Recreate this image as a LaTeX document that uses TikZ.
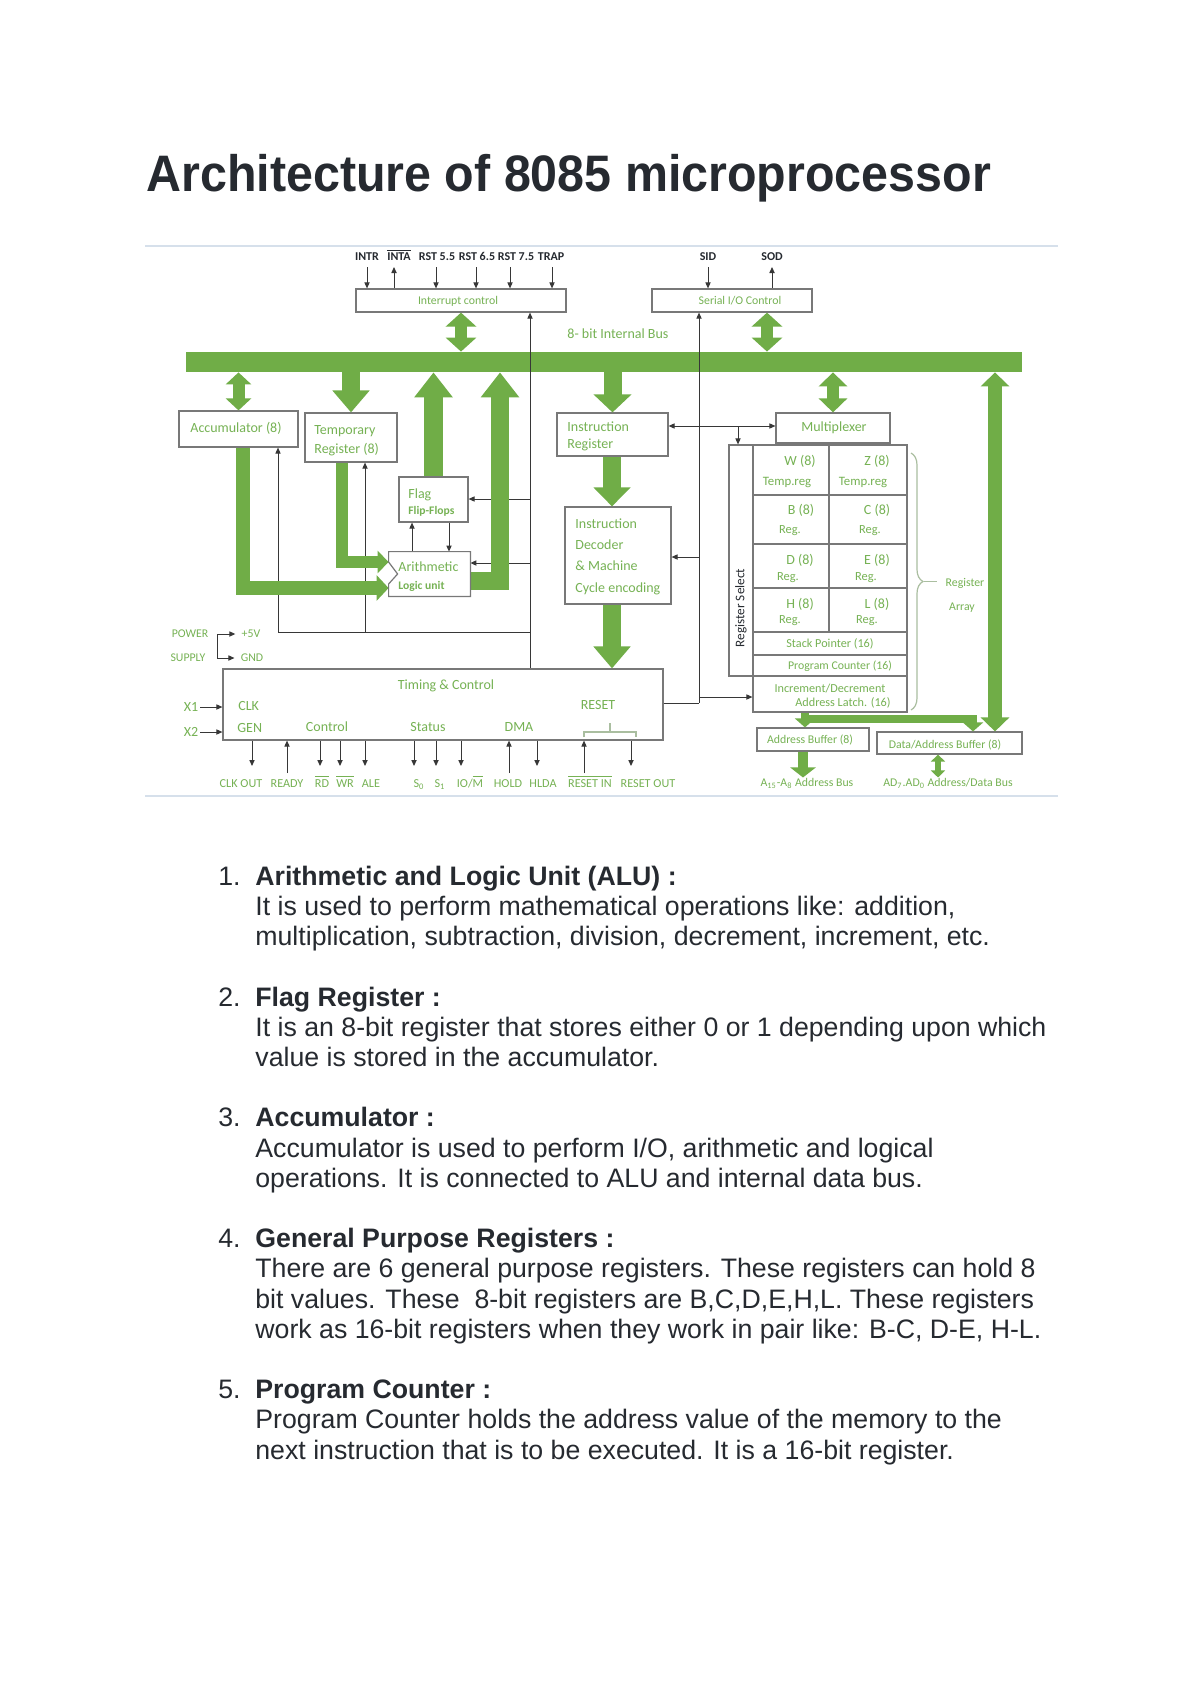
\documentclass[tikz,border=0pt]{standalone}
\usepackage{graphicx}
\usepackage{fontspec}
\setmainfont{Liberation Sans}
\newfontfamily\carl{Carlito}
\usetikzlibrary{arrows.meta,fit,calc,decorations.pathreplacing}
\definecolor{bgreen}{RGB}{112,173,71}
\definecolor{tgreen}{RGB}{118,178,84}
\definecolor{bord}{RGB}{120,120,120}
\definecolor{wirec}{RGB}{55,55,55}
\definecolor{rulec}{RGB}{214,224,235}
\definecolor{ink}{RGB}{38,42,48}
\definecolor{bracec}{RGB}{170,190,160}
\newcommand\ovl[1]{$\overline{\hbox{#1}}$}
\begin{document}
\begin{tikzpicture}[x=0.5pt,y=-0.5pt,
  box/.style={draw=bord,line width=0.6pt,fill=white,inner sep=0pt},
  lab/.style={font=\carl\fontsize{7pt}{8pt}\selectfont,text=tgreen,inner sep=0pt},
  slab/.style={font=\carl\fontsize{5.9pt}{7pt}\selectfont,text=tgreen,inner sep=0pt},
  sblab/.style={font=\carl\bfseries\fontsize{5.8pt}{7pt}\selectfont,text=tgreen,inner sep=0pt},
  botlab/.style={font=\carl\fontsize{6.1pt}{7pt}\selectfont,text=tgreen,inner sep=0pt,anchor=base},
  blab/.style={font=\carl\bfseries\fontsize{6pt}{7pt}\selectfont,text=ink,inner sep=0pt,anchor=base},
  wire/.style={draw=wirec,line width=0.5pt},
  arr/.style={wire,-{Triangle[length=3pt,width=2.6pt]}},
  rarr/.style={wire,{Triangle[length=3pt,width=2.6pt]}-},
  darr/.style={wire,{Triangle[length=3pt,width=2.6pt]}-{Triangle[length=3pt,width=2.6pt]}},
  fat/.style n args={3}{draw=bgreen,line width=#1,-{Triangle[width=#2,length=#3]}},
  fatd/.style n args={3}{draw=bgreen,line width=#1,{Triangle[width=#2,length=#3]}-{Triangle[width=#2,length=#3]}},
  body/.style={anchor=mid west,inner sep=0pt,text=ink,font=\fontsize{13.35pt}{16pt}\selectfont},
  head/.style={body,font=\bfseries\fontsize{13.35pt}{16pt}\selectfont},
]
\fill[white] (0,0) rectangle (1200,1696);
\useasboundingbox (0,0) rectangle (1200,1696);

% ---------- title and rules
\node[anchor=base west,inner sep=0pt,text=ink,font=\bfseries\fontsize{24.2pt}{29pt}\selectfont] (title) at (146,192) {\scalebox{1}[1.06]{Architecture of 8085 microprocessor}};
\coordinate (ruleTL) at (145,246); \coordinate (ruleTR) at (1058,246);
\coordinate (ruleBL) at (145,796); \coordinate (ruleBR) at (1058,796);
\draw[rulec,line width=1pt] (ruleTL) -- (ruleTR);
\draw[rulec,line width=1pt] (ruleBL) -- (ruleBR);

% ---------- helper coordinates
\foreach \v in {217,243,278,342,365,412,449,500,530,612,699,738,767,803,805,938,973,995}{\coordinate (x\v) at (\v,0);}
\foreach \v in {426,499,557,562,563,581,588,632,697,703,719}{\coordinate (r\v) at (0,\v);}

% ---------- top labels
\node[blab] (lintr) at (367,261) {INTR};
\node[blab] (linta) at (399,261) {\ovl{INTA}};
\node[blab] (lr55) at (437,261) {RST 5.5};
\node[blab] (lr65) at (477,261) {RST 6.5};
\node[blab] (lr75) at (516,261) {RST 7.5};
\node[blab] (ltrap) at (551,261) {TRAP};
\node[blab] (lsid) at (708,261) {SID};
\node[blab] (lsod) at (772,261) {SOD};

% ---------- boxes
\node[box,fit={(356,289)(566,312)}] (intc) {};
\node[slab] (intcT) at (458,301) {Interrupt control};
\node[box,fit={(652,289)(812,312)}] (sio) {};
\node[slab] (sioT) at (740,301) {Serial I/O Control};

\node[fill=bgreen,inner sep=0pt,fit={(186,352)(1022,372)}] (bus) {};
\node[lab,anchor=mid west] (busT) at (567,333) {8- bit Internal Bus};

\node[box,fit={(179,411)(298,447)}] (acc) {};
\node[lab] (accT) at (236,428) {Accumulator (8)};
\node[box,fit={(305,413)(397,462)}] (tmp) {};
\node[lab,anchor=mid west] (tmpT1) at (314,429) {Temporary};
\node[lab,anchor=mid west] (tmpT2) at (314,448) {Register (8)};
\node[box,fit={(399,477)(468,522)}] (flag) {};
\node[lab,anchor=mid west] (flagT1) at (408,493) {Flag};
\node[sblab,anchor=mid west] (flagT2) at (408,509) {Flip-Flops};
\node[inner sep=0pt,fit={(389,552)(470,596)}] (alu) {};

\node[box,fit={(557,413)(668,456)}] (ir) {};
\node[lab,anchor=mid west] (irT1) at (567,426) {Instruction};
\node[lab,anchor=mid west] (irT2) at (567,443) {Register};
\node[box,fit={(565,507)(671,604)}] (dec) {};
\node[lab,anchor=mid west] (decT1) at (575,523) {Instruction};
\node[lab,anchor=mid west] (decT2) at (575,544) {Decoder};
\node[lab,anchor=mid west] (decT3) at (575,565) {\& Machine};
\node[lab,anchor=mid west] (decT4) at (575,587) {Cycle encoding};

\node[box,fit={(776,413)(890,443)}] (mux) {};
\node[lab] (muxT) at (834,428) {Multiplexer};
\node[box,fit={(729,445)(753,676)}] (rsel) {};
\node[font=\carl\fontsize{6.6pt}{8pt}\selectfont,text=ink,rotate=90,inner sep=0pt] (rselT) at (741,608) {Register Select};

\node[box,fit={(753,445)(829,495)}] (cW) {};
\node[box,fit={(829,445)(907,495)}] (cZ) {};
\node[box,fit={(753,495)(829,544)}] (cB) {};
\node[box,fit={(829,495)(907,544)}] (cC) {};
\node[box,fit={(753,544)(829,588)}] (cD) {};
\node[box,fit={(829,544)(907,588)}] (cE) {};
\node[box,fit={(753,588)(829,632)}] (cH) {};
\node[box,fit={(829,588)(907,632)}] (cL) {};
\node[box,fit={(753,632)(907,655)}] (cSP) {};
\node[box,fit={(753,655)(907,676)}] (cPC) {};
\node[box,fit={(753,676)(907,712)}] (latch) {};
\node[lab] (tW) at (800,461) {W (8)};
\node[slab,font=\carl\fontsize{6.4pt}{7pt}\selectfont] (tW2) at (787,482) {Temp.reg};
\node[lab] (tZ) at (877,461) {Z (8)};
\node[slab,font=\carl\fontsize{6.4pt}{7pt}\selectfont] (tZ2) at (863,482) {Temp.reg};
\node[lab] (tB) at (801,510) {B (8)};
\node[slab,font=\carl\fontsize{6.2pt}{7pt}\selectfont] (tB2) at (790,531) {Reg.};
\node[lab] (tC) at (877,510) {C (8)};
\node[slab,font=\carl\fontsize{6.2pt}{7pt}\selectfont] (tC2) at (870,531) {Reg.};
\node[lab] (tD) at (800,560) {D (8)};
\node[slab,font=\carl\fontsize{6.2pt}{7pt}\selectfont] (tD2) at (788,578) {Reg.};
\node[lab] (tE) at (877,560) {E (8)};
\node[slab,font=\carl\fontsize{6.2pt}{7pt}\selectfont] (tE2) at (866,578) {Reg.};
\node[lab] (tH) at (800,604) {H (8)};
\node[slab,font=\carl\fontsize{6.2pt}{7pt}\selectfont] (tH2) at (790,621) {Reg.};
\node[lab] (tL) at (877,604) {L (8)};
\node[slab,font=\carl\fontsize{6.2pt}{7pt}\selectfont] (tL2) at (867,621) {Reg.};
\node[slab,font=\carl\fontsize{6.1pt}{7pt}\selectfont] (tSP) at (830,644) {Stack Pointer (16)};
\node[slab] (tPC) at (840,666) {Program Counter (16)};
\node[slab,font=\carl\fontsize{6.1pt}{7pt}\selectfont] (tLa1) at (830,689) {Increment/Decrement};
\node[slab,font=\carl\fontsize{6.1pt}{7pt}\selectfont] (tLa2) at (843,703) {Address Latch. (16)};

\coordinate (brT) at (911,453); \coordinate (brB) at (911,710);
\draw[bracec,line width=0.6pt,decorate,decoration={brace,amplitude=6pt}] (brT) -- (brB);
\node[slab] (regT) at (965,583) {Register};
\node[slab] (arrT) at (962,608) {Array};
\coordinate (brTip) at (924,581.5); \coordinate (brDash) at (937,581.5);
\draw[bracec,line width=0.6pt] (brTip) -- (brDash);

\node[box,fit={(757,728)(869,751)}] (abuf) {};
\node[slab] (abufT) at (810,740) {Address Buffer (8)};
\node[box,fit={(877,732)(1022,754)}] (dbuf) {};
\node[slab] (dbufT) at (945,745) {Data/Address Buffer (8)};
\node[slab] (abusT) at (807,783) {A\textsubscript{15}-A\textsubscript{8} Address Bus};
\node[slab] (dbusT) at (948,783) {AD\textsubscript{7}.AD\textsubscript{0} Address/Data Bus};

\node[box,fit={(223,669)(663,740)}] (timing) {};
\node[lab] (timT) at (446,686) {Timing \& Control};
\node[lab,anchor=mid west] (clkT) at (238,705) {CLK};
\node[lab,anchor=mid west] (genT) at (237,727) {GEN};
\node[lab] (ctlT) at (327,727) {Control};
\node[lab] (staT) at (428,727) {Status};
\node[lab] (dmaT) at (519,727) {DMA};
\node[lab] (rstT) at (598,705) {RESET};
\coordinate (rbA) at (584,737); \coordinate (rbB) at (636,737); \coordinate (rbM) at (610,732);
\draw[bracec,line width=0.6pt] (rbA) -- ++(0,-5) -- ($(rbB)+(0,-5)$) -- (rbB);
\draw[bracec,line width=0.6pt] (rbM) -- ++(0,-9);

\node[lab] (x1T) at (191,707) {X1};
\node[lab] (x2T) at (191,732) {X2};
\node[slab] (pwT) at (190,634) {POWER};
\node[slab] (supT) at (188,658) {SUPPLY};
\node[slab] (v5T) at (251,634) {+5V};
\node[slab] (gndT) at (252,658) {GND};

% bottom signal labels (baseline aligned)
\node[botlab] (bclk) at (241,787) {CLK OUT};
\node[botlab] (brdy) at (287,787) {READY};
\node[botlab] (brd) at (322,787) {\ovl{RD}};
\node[botlab] (bwr) at (345,787) {\ovl{WR}};
\node[botlab] (bale) at (371,787) {ALE};
\node[botlab] (bs0) at (419,787) {S\textsubscript{0}};
\node[botlab] (bs1) at (440,787) {S\textsubscript{1}};
\node[botlab] (biom) at (470,787) {IO/\ovl{M}};
\node[botlab] (bhold) at (508,787) {HOLD};
\node[botlab] (bhlda) at (543,787) {HLDA};
\node[botlab] (brin) at (590,787) {\ovl{RESET IN}};
\node[botlab] (brout) at (648,787) {RESET OUT};

% ---------- thin connectors
\foreach \x/\n in {367/a,436/b,476/c,510/d,552/e}{\coordinate (it\n) at (\x,267); \draw[arr] (it\n) -- (it\n |- intc.north);}
\coordinate (itINTA) at (394,267); \draw[rarr] (itINTA) -- (itINTA |- intc.north);
\coordinate (sidc) at (708,267); \draw[arr] (sidc) -- (sidc |- sio.north);
\coordinate (sodc) at (772,267); \draw[rarr] (sodc) -- (sodc |- sio.north);

\draw[rarr] (intc.south -| x530) -- (timing.north -| x530);
\draw[arr] (x530 |- r499) -- (flag.east |- r499);
\draw[arr] (x530 |- r563) -- (alu.east |- r563);
\draw[wire] (x530 |- r632) -- (x278 |- r632);
\draw[arr] (x278 |- r632) -- (acc.south -| x278);
\draw[arr] (x365 |- r632) -- (tmp.south -| x365);
\draw[arr] (alu.north -| x412) -- (flag.south -| x412);
\draw[arr] (flag.south -| x449) -- (alu.north -| x449);

\draw[rarr] (sio.south -| x699) -- (x699 |- r703);
\draw[darr] (ir.east |- r426) -- (mux.west |- r426);
\draw[arr] (x738 |- r426) -- (rsel.north -| x738);
\draw[arr] (x699 |- r557) -- (dec.east |- r557);
\draw[wire] (timing.east |- r703) -- (x699 |- r703);
\draw[arr] (x699 |- r697) -- (latch.west |- r697);

\coordinate (x1s) at (200,707); \draw[arr] (x1s) -- (timing.west |- x1s);
\coordinate (x2s) at (200,732); \draw[arr] (x2s) -- (timing.west |- x2s);
\draw[arr] (x217 |- v5T.west) -- ([xshift=-3pt]v5T.west);
\draw[arr] (x217 |- v5T.west) |- ([xshift=-3pt]gndT.west);

\foreach \x in {252,320,340,365,414,436,461,537,631}{\coordinate (bs) at (\x,766); \draw[arr] (timing.south -| bs) -- (bs);}
\foreach \x in {287,509,584}{\coordinate (bs) at (\x,773); \draw[arr] (bs) -- (timing.south -| bs);}

% ---------- green buses
\draw[fatd={6pt}{15pt}{7pt}] (intc.south) -- (intc.south |- bus.north);
\draw[fatd={6pt}{15pt}{7pt}] (sio.south -| x767) -- (bus.north -| x767);
\draw[fatd={6pt}{12.5pt}{6pt}] (bus.south -| acc) -- (acc.north);
\draw[fat={9pt}{18pt}{11pt}] (bus.south -| tmp) -- (tmp.north);
\draw[fat={9.5pt}{18.5pt}{12.5pt}] (flag.north) -- (flag.north |- bus.south);
\draw[fat={9pt}{18.5pt}{12.5pt}] (alu.east |- r581) -- (x500 |- r581) -- (x500 |- bus.south);
\draw[fat={9pt}{18.5pt}{9pt}] (bus.south -| ir) -- (ir.north);
\draw[fatd={6pt}{14pt}{7pt}] (bus.south -| mux) -- (mux.north);
\draw[fat={9pt}{18pt}{9.5pt}] (ir.south -| x612) -- (dec.north -| x612);
\draw[fat={9pt}{18pt}{11pt}] (dec.south -| x612) -- (timing.north -| x612);
\draw[fat={7pt}{12.5pt}{6pt}] (acc.south -| x243) -- (x243 |- r588) -- (alu.west |- r588);
\draw[fat={6pt}{11pt}{5.5pt}] (tmp.south -| x342) -- (x342 |- r562) -- (alu.west |- r562);
\draw[fatd={7pt}{14pt}{7pt}] (bus.south -| x995) -- (dbuf.north -| x995);
\draw[fat={4pt}{10pt}{4.5pt}] (latch.south -| x805) -- (abuf.north -| x805);
\draw[fat={4pt}{10pt}{4.5pt}] (x805 |- r719) -- (x973 |- r719) -- (dbuf.north -| x973);
\draw[fat={5pt}{12.5pt}{5pt}] (abuf.south -| x803) -- (x803 |- abusT.north);
\draw[fatd={3pt}{7pt}{3.5pt}] (dbuf.south -| x938) -- (x938 |- dbusT.north);

% ---------- ALU outline with notch
\draw[box] (alu.north west) -- (alu.north east) -- (alu.south east) -- (alu.south west)
  -- ([yshift=-5pt]alu.west) -- ([xshift=4.5pt]alu.west) -- ([yshift=6pt]alu.west) -- cycle;
\node[lab,anchor=mid west] (aluT1) at (398,566) {Arithmetic};
\node[sblab,anchor=mid west] (aluT2) at (398,584) {Logic unit};

% ---------- text
\foreach \n/\y in {1/880,2/1000.8,3/1121.6,4/1242.4,5/1393.4}{\node[body] (num\n) at (218,\y) {\n.};}
\node[head] (h1) at (255,880) {Arithmetic and Logic Unit (ALU) :};
\node[body] (p1a) at (255,910.2) {It is used to perform mathematical operations like: addition,};
\node[body] (p1b) at (255,940.4) {multiplication, subtraction, division, decrement, increment, etc.};
\node[head] (h2) at (255,1000.8) {Flag Register :};
\node[body] (p2a) at (255,1031) {It is an 8-bit register that stores either 0 or 1 depending upon which};
\node[body] (p2b) at (255,1061.2) {value is stored in the accumulator.};
\node[head] (h3) at (255,1121.6) {Accumulator :};
\node[body] (p3a) at (255,1151.8) {Accumulator is used to perform I/O, arithmetic and logical};
\node[body] (p3b) at (255,1182) {operations. It is connected to ALU and internal data bus.};
\node[head] (h4) at (255,1242.4) {General Purpose Registers :};
\node[body] (p4a) at (255,1272.6) {There are 6 general purpose registers. These registers can hold 8};
\node[body] (p4b) at (255,1302.8) {bit values. These~ 8-bit registers are B,C,D,E,H,L. These registers};
\node[body] (p4c) at (255,1333) {work as 16-bit registers when they work in pair like: B-C, D-E, H-L.};
\node[head] (h5) at (255,1393.4) {Program Counter :};
\node[body] (p5a) at (255,1423.6) {Program Counter holds the address value of the memory to the};
\node[body] (p5b) at (255,1453.8) {next instruction that is to be executed. It is a 16-bit register.};
\end{tikzpicture}
\end{document}
